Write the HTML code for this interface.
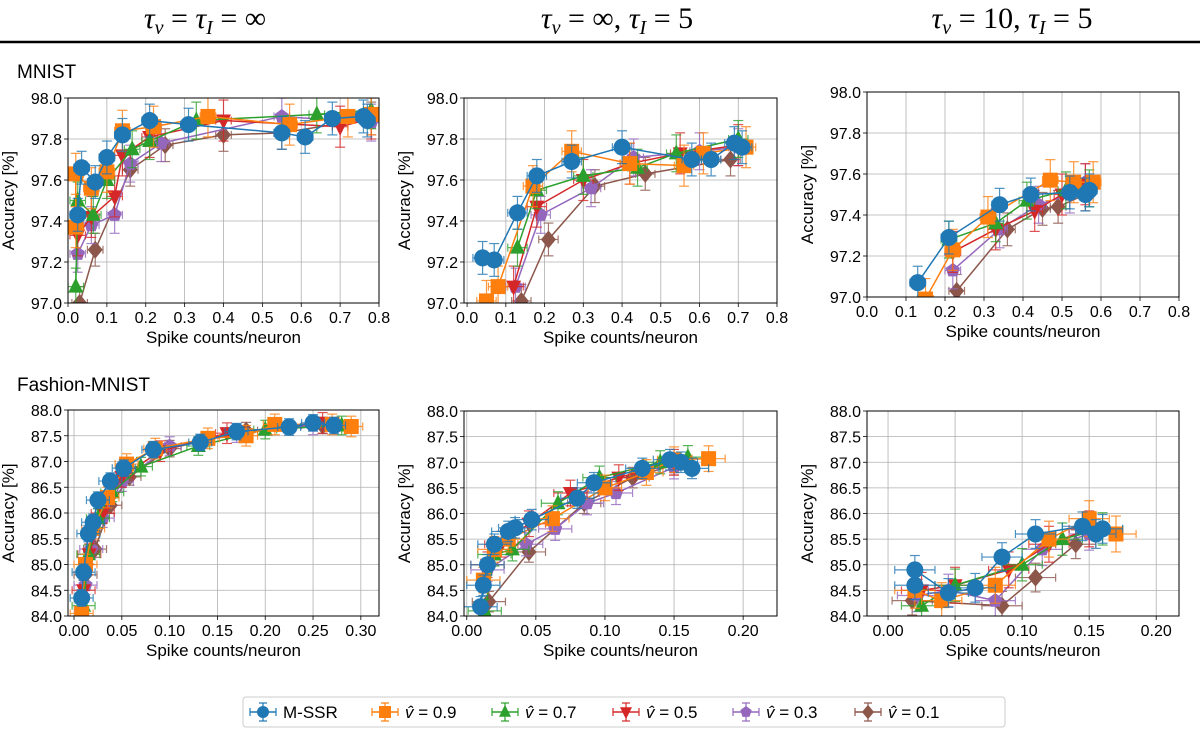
<!DOCTYPE html>
<html><head><meta charset="utf-8"><style>
body{margin:0;background:#fff;width:1200px;height:729px;overflow:hidden}
svg text{font-family:"Liberation Sans",sans-serif}
</style></head><body>
<svg id="fig" width="1200" height="729" viewBox="0 0 1200 729" xmlns="http://www.w3.org/2000/svg">
<text x="205" y="28" text-anchor="middle" font-size="30" style="font-family:'Liberation Serif',serif"><tspan font-style="italic">τ</tspan><tspan font-style="italic" font-size="20" dy="6">v</tspan><tspan dy="-6"> = </tspan><tspan font-style="italic">τ</tspan><tspan font-style="italic" font-size="20" dy="6">I</tspan><tspan dy="-6"> = ∞</tspan></text>
<text x="617" y="28" text-anchor="middle" font-size="30" style="font-family:'Liberation Serif',serif"><tspan font-style="italic">τ</tspan><tspan font-style="italic" font-size="20" dy="6">v</tspan><tspan dy="-6"> = ∞, </tspan><tspan font-style="italic">τ</tspan><tspan font-style="italic" font-size="20" dy="6">I</tspan><tspan dy="-6"> = 5</tspan></text>
<text x="1012" y="28" text-anchor="middle" font-size="30" style="font-family:'Liberation Serif',serif"><tspan font-style="italic">τ</tspan><tspan font-style="italic" font-size="20" dy="6">v</tspan><tspan dy="-6"> = 10, </tspan><tspan font-style="italic">τ</tspan><tspan font-style="italic" font-size="20" dy="6">I</tspan><tspan dy="-6"> = 5</tspan></text>
<line x1="0" y1="42" x2="1200" y2="42" stroke="#000" stroke-width="2.5"/>
<text x="17" y="78" font-size="19">MNIST</text>
<text x="17" y="391" font-size="19">Fashion-MNIST</text>
<g id="legend"></g>
</svg>
<script>
const colors=["#1f77b4","#ff7f0e","#2ca02c","#d62728","#9467bd","#8c564b"];
const markers=["o","s","^","v","p","D"];
const seriesNames=["M-SSR","0.9","0.7","0.5","0.3","0.1"];
const p1x=[[0.025,0.035,0.07,0.1,0.14,0.21,0.31,0.55,0.61,0.68,0.76,0.77],[0.02,0.02,0.06,0.1,0.14,0.22,0.36,0.57,0.72,0.78],[0.02,0.025,0.065,0.1,0.165,0.21,0.33,0.64,0.78],[0.025,0.06,0.12,0.14,0.21,0.4,0.7,0.78],[0.025,0.06,0.12,0.16,0.24,0.55,0.78],[0.03,0.07,0.16,0.25,0.4,0.55,0.78]];
const p1y=[[97.43,97.66,97.59,97.71,97.82,97.89,97.87,97.83,97.81,97.90,97.91,97.89],[97.37,97.63,97.56,97.64,97.84,97.86,97.91,97.87,97.91,97.92],[97.08,97.5,97.43,97.6,97.75,97.79,97.89,97.92,97.94],[97.33,97.42,97.52,97.72,97.81,97.89,97.86,97.90],[97.24,97.38,97.43,97.68,97.78,97.91,97.88],[97.0,97.26,97.65,97.77,97.82,97.83,97.9]];
const p2x=[[0.04,0.07,0.13,0.18,0.27,0.4,0.58,0.63,0.69,0.71],[0.05,0.08,0.17,0.27,0.42,0.56,0.61,0.72],[0.13,0.18,0.3,0.44,0.54,0.7],[0.12,0.18,0.3,0.42,0.55,0.7],[0.125,0.19,0.32,0.43,0.6,0.7],[0.14,0.21,0.33,0.46,0.68]];
const p2y=[[97.22,97.21,97.44,97.62,97.69,97.76,97.7,97.7,97.78,97.76],[97.01,97.08,97.57,97.74,97.68,97.67,97.73,97.76],[97.27,97.55,97.62,97.66,97.73,97.8],[97.08,97.47,97.6,97.68,97.73,97.77],[97.08,97.43,97.56,97.71,97.74,97.76],[97.01,97.31,97.57,97.63,97.7]];
const p3x=[[0.13,0.21,0.34,0.42,0.52,0.56,0.57],[0.15,0.22,0.31,0.47,0.53,0.58],[0.21,0.33,0.41,0.51,0.57],[0.22,0.33,0.43,0.5,0.56],[0.22,0.34,0.44,0.52,0.56],[0.23,0.36,0.45,0.49,0.56]];
const p3y=[[97.07,97.29,97.45,97.5,97.51,97.5,97.52],[96.99,97.23,97.39,97.57,97.56,97.56],[97.28,97.36,97.47,97.52,97.53],[97.22,97.33,97.42,97.5,97.55],[97.13,97.33,97.45,97.5,97.56],[97.03,97.33,97.43,97.44,97.5]];
const p4x=[[0.008,0.01,0.015,0.02,0.025,0.038,0.052,0.083,0.132,0.17,0.225,0.25,0.272],[0.008,0.012,0.02,0.035,0.055,0.085,0.14,0.18,0.21,0.27,0.29],[0.01,0.015,0.025,0.04,0.07,0.13,0.2,0.28],[0.01,0.016,0.03,0.05,0.09,0.16,0.26],[0.012,0.018,0.03,0.05,0.1,0.17,0.25],[0.012,0.022,0.038,0.058,0.1,0.18,0.26]];
const p4y=[[84.35,84.85,85.6,85.82,86.25,86.62,86.87,87.23,87.37,87.58,87.67,87.75,87.7],[84.05,85.0,85.7,86.3,86.95,87.25,87.45,87.5,87.72,87.72,87.68],[84.2,85.2,85.9,86.4,86.9,87.3,87.62,87.7],[84.5,85.2,86.0,86.7,87.2,87.55,87.75],[84.6,85.3,85.9,86.6,87.3,87.55,87.7],[84.8,85.3,86.15,86.7,87.25,87.6,87.7]];
const p5x=[[0.01,0.012,0.015,0.02,0.03,0.035,0.047,0.08,0.092,0.127,0.147,0.155,0.163],[0.012,0.02,0.03,0.062,0.1,0.13,0.15,0.175],[0.013,0.02,0.033,0.066,0.096,0.14,0.16],[0.015,0.025,0.045,0.075,0.11,0.15],[0.015,0.043,0.064,0.087,0.108,0.15],[0.016,0.045,0.085,0.12,0.15]];
const p5y=[[84.18,84.6,85.0,85.4,85.65,85.72,85.88,86.3,86.6,86.88,87.05,87.0,86.88],[84.7,85.3,85.5,85.9,86.5,86.8,87.05,87.07],[84.1,85.2,85.3,86.2,86.7,87.0,87.1],[85.0,85.4,85.8,86.4,86.7,87.0],[84.9,85.4,85.7,86.2,86.4,86.9],[84.28,85.25,86.2,86.7,86.95]];
const p6x=[[0.02,0.02,0.045,0.065,0.085,0.11,0.145,0.155,0.16],[0.02,0.04,0.08,0.12,0.15,0.17],[0.025,0.05,0.1,0.13,0.16],[0.025,0.05,0.09,0.12,0.15],[0.022,0.045,0.08,0.115,0.15],[0.018,0.085,0.11,0.14]];
const p6y=[[84.6,84.9,84.45,84.55,85.15,85.6,85.75,85.6,85.7],[84.5,84.3,84.6,85.5,85.9,85.6],[84.2,84.6,85.0,85.5,85.7],[84.5,84.6,84.9,85.4,85.7],[84.4,84.5,84.3,85.3,85.6],[84.3,84.2,84.75,85.4]];
const yErr=[0.08,0.1,0.09,0.1,0.09,0.08];
const topYTicks=[97.0,97.2,97.4,97.6,97.8,98.0];
const botYTicks=[84.0,84.5,85.0,85.5,86.0,86.5,87.0,87.5,88.0];
const topXTicks=[0.0,0.1,0.2,0.3,0.4,0.5,0.6,0.7,0.8];
const bl_XTicks=[0.00,0.05,0.10,0.15,0.20,0.25,0.30];
const br_XTicks=[0.00,0.05,0.10,0.15,0.20];

const panels=[
 {n:"mnist-inf-inf",L:68,R:379,T:98,B:303,x0:0,x1:0.8,y0:97,y1:98,xs:p1x,ys:p1y,xt:topXTicks,yt:topYTicks,xd:1,yd:1,xe:0.02,ye:1},
 {n:"mnist-inf-5",L:464,R:777,T:98,B:303,x0:-0.008,x1:0.8,y0:97,y1:98,xs:p2x,ys:p2y,xt:topXTicks,yt:topYTicks,xd:1,yd:1,xe:0.025,ye:1},
 {n:"mnist-10-5",L:867,R:1179,T:92,B:297,x0:0,x1:0.8,y0:97,y1:98,xs:p3x,ys:p3y,xt:topXTicks,yt:topYTicks,xd:1,yd:1,xe:0.02,ye:1},
 {n:"fashion-inf-inf",L:68,R:379,T:410,B:616,x0:-0.0063,x1:0.319,y0:84,y1:88,xs:p4x,ys:p4y,xt:bl_XTicks,yt:botYTicks,xd:2,yd:1,xe:0.012,ye:2},
 {n:"fashion-inf-5",L:464,R:777,T:411,B:616,x0:-0.002,x1:0.2245,y0:84,y1:88,xs:p5x,ys:p5y,xt:br_XTicks,yt:botYTicks,xd:2,yd:1,xe:0.012,ye:2.5},
 {n:"fashion-10-5",L:867,R:1179,T:411,B:616,x0:-0.0157,x1:0.217,y0:84,y1:88,xs:p6x,ys:p6y,xt:br_XTicks,yt:botYTicks,xd:2,yd:1,xe:0.015,ye:3.5}
];
const NS="http://www.w3.org/2000/svg";
const svg=document.getElementById("fig");
function mk(tag,attrs,parent){const e=document.createElementNS(NS,tag);for(const k in attrs)e.setAttribute(k,attrs[k]);parent.appendChild(e);return e;}
function marker(g,m,cx,cy,c,s){
 let e;
 if(m==="o")e=mk("circle",{cx:cx,cy:cy,r:s,fill:c},g);
 else if(m==="s")e=mk("rect",{x:cx-s,y:cy-s,width:2*s,height:2*s,fill:c},g);
 else if(m==="^")e=mk("polygon",{points:`${cx},${cy-s*1.2} ${cx-s},${cy+s*0.8} ${cx+s},${cy+s*0.8}`,fill:c},g);
 else if(m==="v")e=mk("polygon",{points:`${cx},${cy+s*1.2} ${cx-s},${cy-s*0.8} ${cx+s},${cy-s*0.8}`,fill:c},g);
 else if(m==="p"){let p=[];for(let i=0;i<5;i++){const a=-Math.PI/2+i*2*Math.PI/5;p.push((cx+s*Math.cos(a)).toFixed(1)+","+(cy+s*Math.sin(a)).toFixed(1));}e=mk("polygon",{points:p.join(" "),fill:c},g);}
 else e=mk("polygon",{points:`${cx},${cy-s*1.2} ${cx+s},${cy} ${cx},${cy+s*1.2} ${cx-s},${cy}`,fill:c},g);
 return e;
}
panels.forEach((P,pi)=>{
 const g=mk("g",{},svg);
 
 
 const sx=v=>P.L+(v-P.x0)/(P.x1-P.x0)*(P.R-P.L);
 const sy=v=>P.B-(v-P.y0)/(P.y1-P.y0)*(P.B-P.T);
 const cid="clip"+pi;
 const cp=mk("clipPath",{id:cid},g);mk("rect",{x:P.L,y:P.T,width:P.R-P.L,height:P.B-P.T},cp);
 P.xt.forEach(t=>{const x=sx(t);
  mk("line",{x1:x,x2:x,y1:P.T,y2:P.B,stroke:"#b0b0b0","stroke-width":0.8},g);
  mk("line",{x1:x,x2:x,y1:P.B,y2:P.B+4,stroke:"#000","stroke-width":0.8},g);
  const tx=mk("text",{x:x,y:P.B+20,"text-anchor":"middle","font-size":16},g);tx.textContent=t.toFixed(P.xd);
  
 });
 P.yt.forEach(t=>{const y=sy(t);
  mk("line",{x1:P.L,x2:P.R,y1:y,y2:y,stroke:"#b0b0b0","stroke-width":0.8},g);
  mk("line",{x1:P.L-4,x2:P.L,y1:y,y2:y,stroke:"#000","stroke-width":0.8},g);
  const ty=mk("text",{x:P.L-6,y:y+6,"text-anchor":"end","font-size":16},g);ty.textContent=t.toFixed(P.yd);
  
 });
 const xl=mk("text",{x:(P.L+P.R)/2,y:P.B+40,"text-anchor":"middle","font-size":17},g);xl.textContent="Spike counts/neuron";
 
 const yl=mk("text",{x:0,y:0,"text-anchor":"middle","font-size":17,transform:`translate(${P.L-54},${(P.T+P.B)/2}) rotate(-90)`},g);yl.textContent="Accuracy [%]";
 
 const dg=mk("g",{"clip-path":`url(#${cid})`},g);
 for(let s=5;s>=0;s--){
  const sg=mk("g",{},dg);
  
  
  const c=colors[s];const xs=P.xs[s],ys=P.ys[s];
  const ye=yErr[s]*P.ye;const xe=P.xe;
  xs.forEach((x,i)=>{const X=sx(x),Y=sy(ys[i]);
   const xa=sx(x-xe),xb=sx(x+xe),ya=sy(ys[i]-ye),yb=sy(ys[i]+ye);
   const eg=mk("g",{stroke:c,"stroke-width":1.2,opacity:0.8},sg);
   mk("line",{x1:xa,x2:xb,y1:Y,y2:Y},eg);mk("line",{x1:X,x2:X,y1:ya,y2:yb},eg);
   mk("line",{x1:xa,x2:xa,y1:Y-4,y2:Y+4},eg);mk("line",{x1:xb,x2:xb,y1:Y-4,y2:Y+4},eg);
   mk("line",{x1:X-5,x2:X+5,y1:ya,y2:ya},eg);mk("line",{x1:X-5,x2:X+5,y1:yb,y2:yb},eg);
  });
  mk("polyline",{points:xs.map((x,i)=>sx(x)+","+sy(ys[i])).join(" "),fill:"none",stroke:c,"stroke-width":1.5},sg);
  xs.forEach((x,i)=>{const m=marker(sg,markers[s],sx(x),sy(ys[i]),c,s===0?8.5:7.5);
   
   });
 }
 mk("rect",{x:P.L,y:P.T,width:P.R-P.L,height:P.B-P.T,fill:"none",stroke:"#000","stroke-width":1},g);
});
const lg=document.getElementById("legend");
mk("rect",{x:243,y:697,width:762,height:30,rx:3,fill:"#fff",stroke:"#ccc","stroke-width":1},lg);
const legX=[263,385,505,626,746,868];
seriesNames.forEach((nm,i)=>{
 const e=mk("g",{},lg);
 
 
 const c=colors[i],cx=legX[i],cy=712;
 mk("line",{x1:cx-13,x2:cx+13,y1:cy,y2:cy,stroke:c,"stroke-width":1.5},e);
 mk("line",{x1:cx,x2:cx,y1:cy-9,y2:cy+9,stroke:c,"stroke-width":1.2},e);
 mk("line",{x1:cx-4,x2:cx+4,y1:cy-9,y2:cy-9,stroke:c,"stroke-width":1.2},e);
 mk("line",{x1:cx-4,x2:cx+4,y1:cy+9,y2:cy+9,stroke:c,"stroke-width":1.2},e);
 mk("line",{x1:cx-13,x2:cx-13,y1:cy-4,y2:cy+4,stroke:c,"stroke-width":1.2},e);
 mk("line",{x1:cx+13,x2:cx+13,y1:cy-4,y2:cy+4,stroke:c,"stroke-width":1.2},e);
 marker(e,markers[i],cx,cy,c,6);
 const t=mk("text",{x:cx+20,y:cy+6,"font-size":17},e);
 if(i===0)t.textContent="M-SSR";
 else t.innerHTML=`<tspan font-style="italic">v̂</tspan> = ${nm}`;
});
</script>
</body></html>
